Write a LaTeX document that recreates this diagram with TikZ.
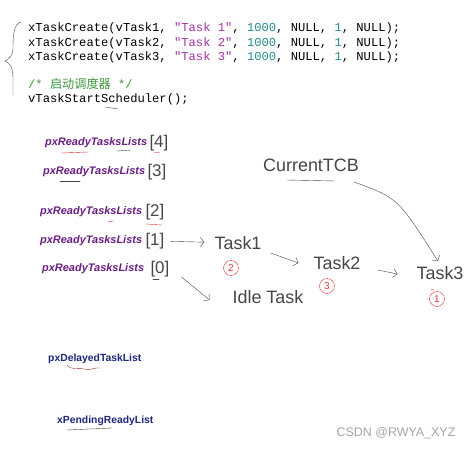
\documentclass[tikz,border=0pt]{standalone}
\usepackage{fontspec}
\setmainfont{Liberation Sans}
\setmonofont{Liberation Mono}
\newfontfamily\cjk{Noto Sans CJK SC}
\usepackage{tikz}
\usetikzlibrary{arrows.meta,positioning}
\definecolor{strcol}{RGB}{165, 50, 165}
\definecolor{numcol}{RGB}{40, 140, 140}
\definecolor{cmtcol}{RGB}{60, 150, 60}
\definecolor{listcol}{RGB}{105, 30, 130}
\definecolor{blockcol}{RGB}{30, 40, 125}
\definecolor{pen}{RGB}{70, 70, 70}
\definecolor{inkred}{RGB}{225, 50, 50}
\tikzstyle{code} = [anchor=west, inner sep=0pt, text=black, font=\ttfamily\fontsize{12.2}{14}\selectfont]
\tikzstyle{listname} = [anchor=west, inner sep=0pt, text=listcol, font=\bfseries\itshape\fontsize{11}{12}\selectfont]
\tikzstyle{blockname} = [anchor=west, inner sep=0pt, text=blockcol, font=\bfseries\fontsize{10.4}{12}\selectfont]
\tikzstyle{idx} = [inner sep=0pt, text=pen, font=\fontsize{17}{18}\selectfont]
\tikzstyle{hand} = [inner sep=1pt, text=pen, font=\fontsize{18}{20}\selectfont]
\tikzstyle{prio} = [circle, draw=inkred, thin, text=inkred, inner sep=0.6pt, minimum size=15pt, font=\fontsize{10}{10}\selectfont]
\tikzstyle{hedge} = [draw=pen, thin, -{Straight Barb[length=4pt,width=9pt]}]
\tikzstyle{stroke} = [draw=pen, thin, line cap=round]
\tikzstyle{rstroke} = [draw=inkred, thin, line cap=round]

\begin{document}
\begin{tikzpicture}[x=1bp, y=-1bp]
\useasboundingbox[fill=white] (0,0) rectangle (474,449);

% code =============================
\node[code] (c1) at (28,28) {xTaskCreate(vTask1, \textcolor{strcol}{"Task 1"}, \textcolor{numcol}{1000}, NULL, \textcolor{numcol}{1}, NULL);};
\node[code] (c2) at (28,43) {xTaskCreate(vTask2, \textcolor{strcol}{"Task 2"}, \textcolor{numcol}{1000}, NULL, \textcolor{numcol}{1}, NULL);};
\node[code] (c3) at (28,57) {xTaskCreate(vTask3, \textcolor{strcol}{"Task 3"}, \textcolor{numcol}{1000}, NULL, \textcolor{numcol}{1}, NULL);};
\node[code, text=cmtcol] (cmt) at (28,84) {/* {\cjk 启动调度器} */};
\node[code] (start) at (28,99) {vTaskStartScheduler();};

% brace
\draw[stroke] (21,22) .. controls (14,24) and (13,34) .. (13,48)
  .. controls (13,56) and (9,59) .. (5,61)
  .. controls (10,63) and (13,67) .. (13,78) -- (13,95);
\draw[stroke] (105,107) -- (118,109);

% ready lists
\node[listname] (r4) at (45,143) {pxReadyTasksLists};
\node[listname] (r3) at (43,172) {pxReadyTasksLists};
\node[listname] (r2) at (40,212) {pxReadyTasksLists};
\node[listname] (r1) at (40,241) {pxReadyTasksLists};
\node[listname] (r0) at (42,269) {pxReadyTasksLists};
\node[idx, right=2pt of r4] (i4) {[4]};
\node[idx, right=2pt of r3] (i3) {[3]};
\node[idx, right=3pt of r2] (i2) {[2]};
\node[idx, right=3pt of r1] (i1) {[1]};
\node[idx, right=6pt of r0] (i0) {[0]};

\draw[rstroke] (61,153) -- (88,152);
\draw[stroke] (117,151) -- (131,150);
\draw[rstroke] (154,153) -- (160,152);
\draw[stroke] (60,181) -- (80,181);
\draw[rstroke] (108,222) -- (113,221);
\draw[rstroke] (146,224) -- (162,225);
\draw[stroke] (153,279) -- (159,279);

% other lists
\node[blockname] (delayed) at (48,359) {pxDelayedTaskList};
\node[blockname] (pending) at (57,421) {xPendingReadyList};
\draw[inkred!70!black, thin] (67,365) .. controls (72,371) and (78,367) .. (84,369)
  .. controls (90,371) and (95,367) .. (100,368);
\draw[stroke] (67,430) -- (112,428);

% tasks
\node[hand] (task1) at (238,243) {Task1};
\node[hand] (task2) at (337,263) {Task2};
\node[hand] (task3) at (440,273) {Task3};
\node[hand] (idle) at (268,297) {Idle Task};
\node[hand] (tcb) at (311,165) {CurrentTCB};
\draw[stroke] (287,180) -- (335,181);

\node[prio] (p1) at (231,268) {2};
\node[prio] (p2) at (327,286) {3};
\node[prio] (p3) at (437,299) {1};
\draw[rstroke] (431,289) -- (434,290);

% edges
\path[hedge, shorten <=6pt, shorten >=9pt] (i1) -- (task1);
\path[hedge] (task1.east) ++(8,10) coordinate (e2) (e2) -- ([xshift=-14pt,yshift=0pt]task2.west);
\path[hedge] (task2.east) ++(16,7) coordinate (e3) (e3) -- ([xshift=-18pt,yshift=-1pt]task3.west);
\path[hedge] (i0.east) ++(12,8) coordinate (e4) (e4) -- ([xshift=-22pt,yshift=-3pt]idle.west);
\path[hedge] (tcb.east) ++(-6,17) coordinate (e5) (e5) .. controls (398,198) .. ([xshift=-2pt,yshift=4pt]task3.north);

% watermark
\node[text=gray!70, inner sep=0pt, font=\fontsize{12.5}{14}\selectfont] (mark) at (396,433) {CSDN @RWYA\_XYZ};

\end{tikzpicture}
\end{document}
